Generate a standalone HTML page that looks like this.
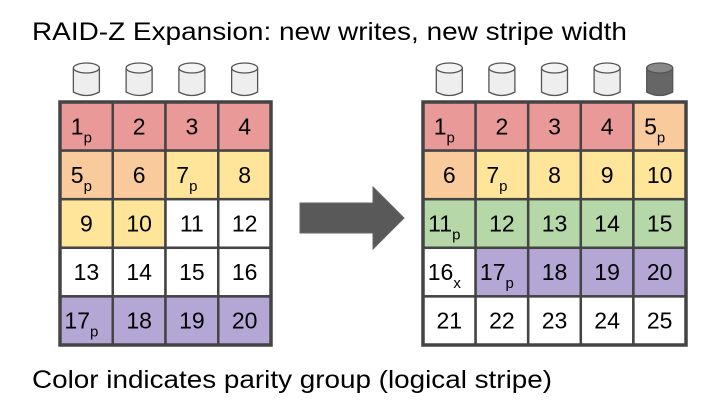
<!DOCTYPE html>
<html><head><meta charset="utf-8"><style>body{margin:0;background:#fff}svg{display:block}</style></head><body>
<svg width="720" height="405" viewBox="0 0 720 405" xmlns="http://www.w3.org/2000/svg" font-family="Liberation Sans, sans-serif">
<rect width="720" height="405" fill="#fff"/>
<text x="32" y="40" font-size="25" textLength="595" lengthAdjust="spacingAndGlyphs">RAID-Z Expansion: new writes, new stripe width</text>
<text x="32" y="388" font-size="25" textLength="520" lengthAdjust="spacingAndGlyphs">Color indicates parity group (logical stripe)</text>
<path d="M300 203 H373 V187 L404 218 L373 249 V233 H300 Z" fill="#595959" stroke="#666" stroke-width="1"/>
</svg>
<script>
var ns="http://www.w3.org/2000/svg";
var svg=document.querySelector('svg');
function el(t,a,txt,p){var e=document.createElementNS(ns,t);for(var k in a)e.setAttribute(k,a[k]);if(txt!=null)e.textContent=txt;(p||svg).appendChild(e);return e;}
var C={r:"#ea9999",o:"#f9cb9c",y:"#ffe599",g:"#b6d7a8",p:"#b4a7d6",w:"#ffffff"};
function cyl(cx,dark){var w=26,t=63,b=96;var f=dark?"#666":"#eeeeee";
 el('path',{d:`M${cx-w/2} ${t+5} V${b-4} Q${cx} ${b+3} ${cx+w/2} ${b-4} V${t+5}`,fill:f,stroke:"#555","stroke-width":1.3});
 el('ellipse',{cx:cx,cy:t+5,rx:w/2,ry:5,fill:dark?"#888":"#f4f4f4",stroke:"#555","stroke-width":1.3});}
function grid(x0,x1,cols,data){var y0=102,y1=345;var cw=(x1-x0)/cols,rh=(y1-y0)/5;
 data.forEach(function(row,r){row.forEach(function(c,i){var x=x0+i*cw,y=y0+r*rh;
  el('rect',{x:x,y:y,width:cw,height:rh,fill:C[c[1]],stroke:"#444","stroke-width":2.5});
  var cx=x+cw/2,cy=y+rh/2+8;
  if(c[2]){var tx=el('text',{x:cx-5,y:cy,"font-size":23,"text-anchor":"middle"},c[0]);
   el('tspan',{"font-size":15,dy:8},c[2],tx);}
  else el('text',{x:cx,y:cy,"font-size":23,"text-anchor":"middle"},c[0]);
  if(r==0)cyl(cx,cols==5&&i==4);
 });});
 el('rect',{x:x0,y:y0,width:x1-x0,height:y1-y0,fill:"none",stroke:"#444","stroke-width":3.5});}
grid(60,271,4,[
[["1","r","p"],["2","r"],["3","r"],["4","r"]],
[["5","o","p"],["6","o"],["7","y","p"],["8","y"]],
[["9","y"],["10","y"],["11","w"],["12","w"]],
[["13","w"],["14","w"],["15","w"],["16","w"]],
[["17","p","p"],["18","p"],["19","p"],["20","p"]]]);
grid(423,686,5,[
[["1","r","p"],["2","r"],["3","r"],["4","r"],["5","o","p"]],
[["6","o"],["7","y","p"],["8","y"],["9","y"],["10","y"]],
[["11","g","p"],["12","g"],["13","g"],["14","g"],["15","g"]],
[["16","w","x"],["17","p","p"],["18","p"],["19","p"],["20","p"]],
[["21","w"],["22","w"],["23","w"],["24","w"],["25","w"]]]);
</script>
</body></html>
